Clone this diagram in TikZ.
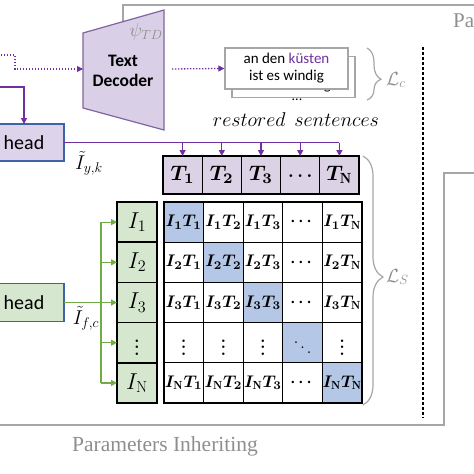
\RequirePackage{fix-cm}
\documentclass[tikz,border=0pt]{standalone}
\usepackage{amsmath,amssymb,bm}
\usepackage{graphicx}
\usepackage{fontspec}
\newfontfamily\carl{Carlito}
\newfontfamily\timesf{Liberation Serif}
\usetikzlibrary{arrows.meta,decorations.pathreplacing,calc}
\definecolor{tdfill}{HTML}{D9CFE6}
\definecolor{tdborder}{HTML}{8064A2}
\definecolor{hpfill}{HTML}{DDD3EA}
\definecolor{hborder}{HTML}{3E64A8}
\definecolor{tfill}{HTML}{DCD2E6}
\definecolor{bluecell}{HTML}{B4C7E7}
\definecolor{gfill}{HTML}{D6E7CF}
\definecolor{grn}{HTML}{6FAC46}
\definecolor{purp}{HTML}{7030A0}
\definecolor{frame}{HTML}{A6A6A6}
\definecolor{lgray}{HTML}{8E8E8E}
\newcommand\bsc[2]{\scalebox{#1}{\fontsize{10}{12}\selectfont$\bm{#2}$}}
\newcommand\cl[2]{\bsc{1.68}{I_{#1}T_{#2}}}
\tikzset{
  frameline/.style={draw=frame, line width=1.5pt},
  purpline/.style={draw=purp, line width=1.2pt},
  purpdot/.style={draw=purp, line width=1.3pt, dash pattern=on 1.4pt off 1.6pt},
  ptip/.style={-{Triangle[length=6pt,width=6pt]}},
  grnline/.style={draw=grn, line width=1.2pt},
  cell/.style={draw=black, line width=1.3pt, minimum width=39.6pt, minimum height=40.2pt, inner sep=0pt, outer sep=0pt},
  bcell/.style={cell, fill=bluecell},
  tcell/.style={draw=black, line width=1.3pt, fill=tfill, minimum width=39.2pt, minimum height=38pt, inner sep=0pt, outer sep=0pt},
  icell/.style={draw=black, line width=1.5pt, fill=gfill, minimum width=40pt, minimum height=40.2pt, inner sep=0pt, outer sep=0pt, font=\fontsize{23}{25}\selectfont},
  headbox/.style={draw=hborder, line width=1.3pt, minimum width=80pt, inner sep=0pt, outer sep=0pt, font=\carl\fontsize{20}{22}\selectfont},
  sentbox/.style={draw=frame, line width=1.3pt, fill=white, minimum width=123pt, minimum height=41pt, inner sep=0pt, align=center, font=\carl\fontsize{15}{17}\selectfont},
  graybrace/.style={draw=frame, line width=1.2pt, decorate},
  graytext/.style={text=lgray, font=\fontsize{19}{21}\selectfont},
}
\begin{document}
\begin{tikzpicture}[x=1pt,y=-1pt]
\useasboundingbox (0,0) rectangle (474,474);
\clip (0,0) rectangle (474,474);

% gray frames
\draw[frameline] (123,24) -- (123,5) -- (480,5);
\draw[frameline] (-5,425) -- (444,425) -- (444,173) -- (480,173);
\node[anchor=west, inner sep=0pt, text=lgray, font=\timesf\fontsize{21}{23}\selectfont] (pa) at (453,21) {Pa};
\node[inner sep=0pt, text=lgray, font=\timesf\fontsize{21.5}{23}\selectfont] (pi) at (165,446) {Parameters Inheriting};

% dotted black divider
\coordinate (dtop) at (423,47);
\coordinate (dbot) at (423,418);
\draw[black, line width=2.6pt, dash pattern=on 2.6pt off 2.4pt] (dtop) -- (dbot);

% text decoder
\path[fill=tdfill, draw=tdborder, line width=1.2pt] (83,33) -- (164,10) -- (164,130) -- (83,108) -- cycle;
\node[align=center, inner sep=0pt, font=\carl\bfseries\fontsize{17.5}{20}\selectfont] (td) at (123,71) {Text\\Decoder};
\node[graytext, inner sep=0pt] (psi) at (146,32) {$\psi_{TD}$};
\coordinate (tdin) at (83,69);
\coordinate (tdout) at (172,69);
\coordinate (dl0) at (-5,55);
\coordinate (dl1) at (15,55);
\draw[purpdot] (dl0) -- (dl1) |- (tdin);
\draw[purp, line width=1pt, -{Triangle[length=6pt,width=6pt]}] ($(tdin)+(-6,0)$) -- (tdin);

% restored sentences
\node[sentbox] (back) at (293.5,77) {an den küsten\\ist es windig};
\node[sentbox] (sent) at (286.5,68.5) {an den \textcolor{purp}{küsten}\\ist es windig};
\draw[purpdot] (tdout) -- ($(sent.west)+(-6,0)$);
\draw[purp, line width=1pt, -{Triangle[length=6pt,width=6pt]}] ($(sent.west)+(-6,0)$) -- (sent.west);
\node[inner sep=0pt, font=\carl\fontsize{14}{15}\selectfont] (dots) at (297,100) {...};
\node[inner sep=0pt, font=\fontsize{20}{22}\selectfont] (rs) at (296,120) {$restored\;\,sentences$};
\coordinate (lc1) at (367,48);
\coordinate (lc2) at (367,100);
\draw[graybrace, decoration={brace, amplitude=14pt, aspect=0.6}] (lc1) -- (lc2);
\node[graytext, anchor=west, inner sep=0pt] (lc) at (386,80) {$\mathcal{L}_c$};

% head boxes
\node[headbox, fill=hpfill, minimum height=37pt] (h1) at (24,142.5) {head};
\node[headbox, fill=gfill, minimum height=38pt] (h2) at (24,302.5) {head};
\node[inner sep=0pt, font=\fontsize{20}{22}\selectfont] (iy) at (89,163) {$\tilde{I}_{y,k}$};
\node[inner sep=0pt, font=\fontsize{20}{22}\selectfont] (ifc) at (86,318) {$\tilde{I}_{f,c}$};
\coordinate (hin) at (-5,87);
\draw[purpline, ptip] (hin) -| (h1.north);

% T row
\node[tcell] (t1) at (182.6,175) {\bsc{2.1}{T_1}};
\node[tcell] (t2) at (221.8,175) {\bsc{2.1}{T_2}};
\node[tcell] (t3) at (261.0,175) {\bsc{2.1}{T_3}};
\node[tcell] (t4) at (300.2,175) {\raisebox{-4pt}{\bsc{1.8}{\ldots}}};
\node[tcell] (t5) at (339.4,175) {\bsc{2.1}{T_{\mathrm{N}}}};
\draw[purpline] (h1.east) -- (h1.east -| t5.north);
\foreach \k in {1,...,5}{
  \draw[purpline, ptip] (h1.east -| t\k.north) -- (t\k.north);
}

% I column
\node[icell] (i1) at (137,222.1) {$I_1$};
\node[icell] (i2) at (137,262.3) {$I_2$};
\node[icell] (i3) at (137,302.5) {$I_3$};
\node[icell] (i4) at (137,342.7) {\bsc{1.6}{\vdots}};
\node[icell] (i5) at (137,382.9) {$I_{\mathrm{N}}$};
\coordinate (gv) at (101,0);
\draw[grnline] (i1.west -| gv) -- (i5.west -| gv);
\draw[grnline, -{Triangle[length=6pt,width=6pt]}] (h2.east) -- (i3.west);
\foreach \k in {1,2,4,5}{
  \draw[grnline, -{Triangle[length=6pt,width=6pt]}] (i\k.west -| gv) -- (i\k.west);
}

% matrix
\node[bcell] (m11) at (183.8,222.1) {\cl{1}{1}};
\node[cell] (m12) at (223.4,222.1) {\cl{1}{2}};
\node[cell] (m13) at (263.0,222.1) {\cl{1}{3}};
\node[cell] (m14) at (302.6,222.1) {\bsc{1.6}{\cdots}};
\node[cell] (m15) at (342.2,222.1) {\cl{1}{\mathrm{N}}};

\node[cell] (m21) at (183.8,262.3) {\cl{2}{1}};
\node[bcell] (m22) at (223.4,262.3) {\cl{2}{2}};
\node[cell] (m23) at (263.0,262.3) {\cl{2}{3}};
\node[cell] (m24) at (302.6,262.3) {\bsc{1.6}{\cdots}};
\node[cell] (m25) at (342.2,262.3) {\cl{2}{\mathrm{N}}};

\node[cell] (m31) at (183.8,302.5) {\cl{3}{1}};
\node[cell] (m32) at (223.4,302.5) {\cl{3}{2}};
\node[bcell] (m33) at (263.0,302.5) {\cl{3}{3}};
\node[cell] (m34) at (302.6,302.5) {\bsc{1.6}{\cdots}};
\node[cell] (m35) at (342.2,302.5) {\cl{3}{\mathrm{N}}};

\node[cell] (m41) at (183.8,342.7) {\bsc{1.6}{\vdots}};
\node[cell] (m42) at (223.4,342.7) {\bsc{1.6}{\vdots}};
\node[cell] (m43) at (263.0,342.7) {\bsc{1.6}{\vdots}};
\node[bcell] (m44) at (302.6,342.7) {\bsc{1.6}{\ddots}};
\node[cell] (m45) at (342.2,342.7) {\bsc{1.6}{\vdots}};

\node[cell] (m51) at (183.8,382.9) {\cl{\mathrm{N}}{1}};
\node[cell] (m52) at (223.4,382.9) {\cl{\mathrm{N}}{2}};
\node[cell] (m53) at (263.0,382.9) {\cl{\mathrm{N}}{3}};
\node[cell] (m54) at (302.6,382.9) {\bsc{1.6}{\cdots}};
\node[bcell] (m55) at (342.2,382.9) {\cl{\mathrm{N}}{\mathrm{N}}};

% L_S brace
\coordinate (ls1) at (363,156);
\coordinate (ls2) at (363,405);
\draw[graybrace, decoration={brace, amplitude=20pt, aspect=0.486}] (ls1) -- (ls2);
\node[graytext, anchor=west, inner sep=0pt] (ls) at (386,277) {$\mathcal{L}_S$};
\end{tikzpicture}
\end{document}
